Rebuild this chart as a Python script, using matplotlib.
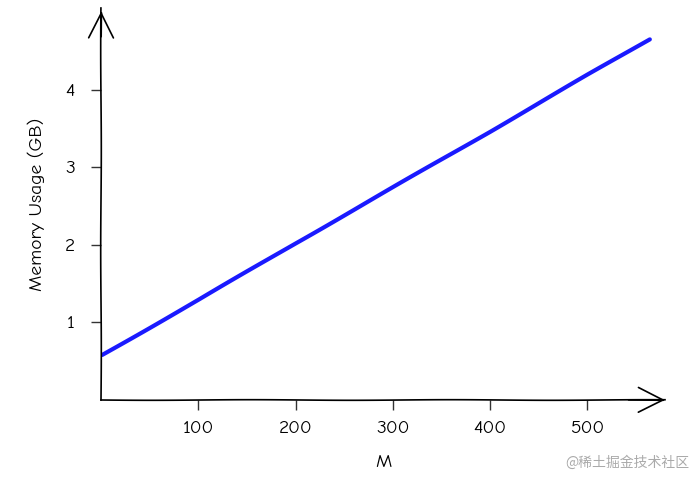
import matplotlib
matplotlib.use('Agg')
import logging
logging.getLogger('matplotlib.font_manager').setLevel(logging.ERROR)
import matplotlib.pyplot as plt

# data
m_values = [1, 100, 200, 300, 400, 500, 564]
memory_gb = [0.58, 1.29, 2.02, 2.74, 3.46, 4.19, 4.65]
x_ticks = [100, 200, 300, 400, 500]
y_ticks = [1, 2, 3, 4]

plt.xkcd(scale=0.3, length=200, randomness=1)
plt.rcParams['path.effects'] = []
fig = plt.figure(figsize=(6.93, 4.79), dpi=100)
ax = fig.add_axes([0.146, 0.165, 0.814, 0.818])

ax.plot(m_values, memory_gb, color='#1a1aff', linewidth=3, solid_capstyle='round')

ax.set_xlim(0, 580)
ax.set_ylim(0, 5.05)
ax.set_xticks(x_ticks)
ax.set_yticks(y_ticks)
ax.tick_params(labelsize=14, width=1, length=7, color='#333333')
ax.tick_params(axis='x', pad=8)
ax.tick_params(axis='y', pad=12)
ax.set_xlabel('M', fontsize=14, labelpad=14)
ax.set_ylabel('Memory Usage (GB)', fontsize=14, labelpad=14)

ax.spines['top'].set_visible(False)
ax.spines['right'].set_visible(False)
ax.spines['left'].set_linewidth(1.2)
ax.spines['bottom'].set_linewidth(1.2)

# arrow heads at the end of the axes
ax.annotate('', xy=(1.005, 0), xytext=(0.93, 0), xycoords='axes fraction',
            arrowprops=dict(arrowstyle='->', color='black', lw=1.2, mutation_scale=45))
ax.annotate('', xy=(0, 1.0), xytext=(0, 0.92), xycoords='axes fraction',
            arrowprops=dict(arrowstyle='->', color='black', lw=1.2, mutation_scale=45))

fig.text(0.995, 0.02, '@稀土掘金技术社区', ha='right', va='bottom', fontsize=10,
         color='#aaaaaa', family=['Noto Sans CJK SC', 'DejaVu Sans'])

fig.savefig('out.png', dpi=100)
